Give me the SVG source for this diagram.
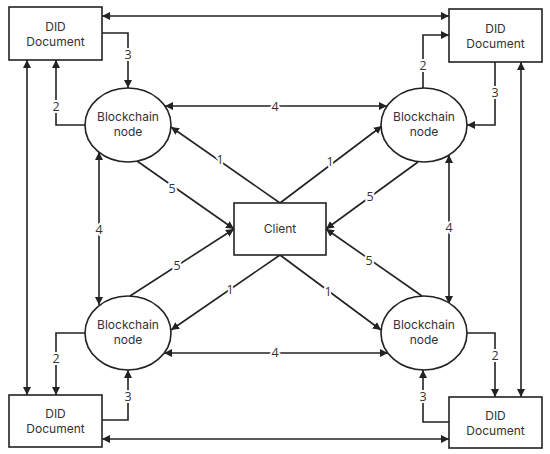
<svg xmlns="http://www.w3.org/2000/svg" width="550" height="454" viewBox="0 0 550 454">
<defs>
<marker id="ah" viewBox="0 0 10 10" refX="10" refY="5" markerWidth="8" markerHeight="8" markerUnits="userSpaceOnUse" orient="auto-start-reverse">
<path d="M0,0 L10,5 L0,10 z" fill="#222"/>
</marker>
<style>
.box{fill:#fff;stroke:#222;stroke-width:1.6}
.t{font-family:Inter,"Open Sans",sans-serif;font-size:12px;fill:#333;text-anchor:middle}
.c path{fill:none;stroke:#222;stroke-width:1.6}
.e{marker-end:url(#ah)}
.b{marker-start:url(#ah);marker-end:url(#ah)}
.l{font-family:"Open Sans","DejaVu Sans",sans-serif;font-size:12.5px;fill:#333;text-anchor:middle;stroke:#fff;stroke-width:4;paint-order:stroke;stroke-linejoin:round}
</style>
</defs>
<rect width="550" height="454" fill="#fff"/>
<g class="c" id="connectors">
<path class="b" d="M102,16 H449"/>
<path class="b" d="M102,439 H449"/>
<path class="b" d="M27,60 V395"/>
<path class="b" d="M521,62 V397"/>
<path class="e" d="M102,33 H128 V88"/>
<path class="e" d="M85,125 H56 V60"/>
<path class="e" d="M423,88 V35 H449"/>
<path class="e" d="M495,62 V125 H467"/>
<path class="e" d="M85,333 H56 V395"/>
<path class="e" d="M102,420 H128 V370"/>
<path class="e" d="M467,333 H495 V397"/>
<path class="e" d="M449,422 H423 V370"/>
<path class="b" d="M165,106 H387"/>
<path class="b" d="M164,353 H388"/>
<path class="b" d="M99,152 V305"/>
<path class="b" d="M449,155 V304"/>
<path class="e" d="M280,203 L171,127"/>
<path class="e" d="M280,203 L382,126"/>
<path class="e" d="M137,161 L234,229"/>
<path class="e" d="M418,162 L326,229"/>
<path class="e" d="M130,296 L234,229"/>
<path class="e" d="M422,296 L326,229"/>
<path class="e" d="M280,255 L171,330"/>
<path class="e" d="M280,255 L381,330"/>
<text class="l" x="128" y="59">3</text>
<text class="l" x="56" y="111">2</text>
<text class="l" x="423" y="70">2</text>
<text class="l" x="495" y="97">3</text>
<text class="l" x="56" y="363">2</text>
<text class="l" x="128" y="401">3</text>
<text class="l" x="495" y="360">2</text>
<text class="l" x="423" y="401">3</text>
<text class="l" x="275" y="111">4</text>
<text class="l" x="275" y="357">4</text>
<text class="l" x="99" y="234">4</text>
<text class="l" x="449" y="232">4</text>
<text class="l" x="220" y="164">1</text>
<text class="l" x="330" y="166">1</text>
<text class="l" x="172" y="193">5</text>
<text class="l" x="370" y="201">5</text>
<text class="l" x="177" y="270">5</text>
<text class="l" x="230" y="294">1</text>
<text class="l" x="328" y="296">1</text>
<text class="l" x="369" y="265">5</text>
</g>
<g id="did-tl"><rect class="box" x="9" y="7" width="93" height="53"/><text class="t" x="55.5" y="31">DID<tspan x="55.5" dy="15">Document</tspan></text></g>
<g id="did-tr"><rect class="box" x="449" y="9" width="93" height="53"/><text class="t" x="495.5" y="33">DID<tspan x="495.5" dy="15">Document</tspan></text></g>
<g id="did-bl"><rect class="box" x="9" y="395" width="93" height="52"/><text class="t" x="55.5" y="418">DID<tspan x="55.5" dy="15">Document</tspan></text></g>
<g id="did-br"><rect class="box" x="449" y="397" width="93" height="51"/><text class="t" x="495.5" y="420">DID<tspan x="495.5" dy="15">Document</tspan></text></g>
<g id="bc-tl"><ellipse class="box" cx="128" cy="125" rx="43" ry="37"/><text class="t" x="128" y="121">Blockchain<tspan x="128" dy="15">node</tspan></text></g>
<g id="bc-tr"><ellipse class="box" cx="424" cy="125" rx="43" ry="37"/><text class="t" x="424" y="121">Blockchain<tspan x="424" dy="15">node</tspan></text></g>
<g id="bc-bl"><ellipse class="box" cx="128" cy="333" rx="43" ry="37"/><text class="t" x="128" y="329">Blockchain<tspan x="128" dy="15">node</tspan></text></g>
<g id="bc-br"><ellipse class="box" cx="424" cy="333" rx="43" ry="37"/><text class="t" x="424" y="329">Blockchain<tspan x="424" dy="15">node</tspan></text></g>
<g id="client"><rect class="box" x="234" y="203" width="92" height="52"/><text class="t" x="280" y="233">Client</text></g>
</svg>
